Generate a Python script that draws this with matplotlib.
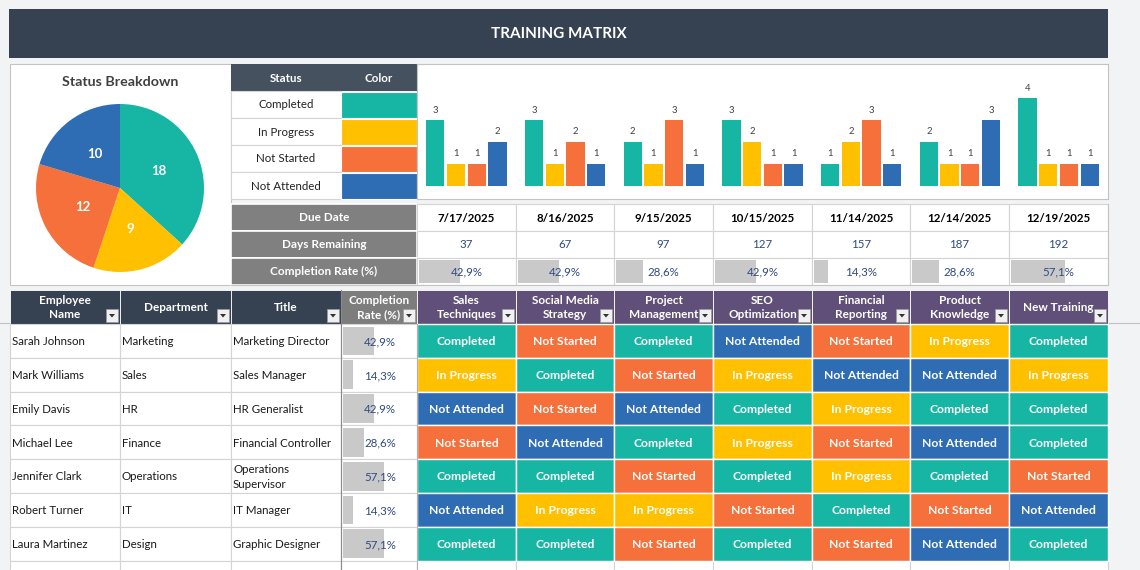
import matplotlib
matplotlib.use("Agg")
import matplotlib.pyplot as plt
from matplotlib.patches import Rectangle, Polygon
import numpy as np

plt.rcParams['font.family'] = ['Lato', 'DejaVu Sans']

# ---------------- data ----------------
statuses = ["Completed", "In Progress", "Not Started", "Not Attended"]
status_colors = ["#17b6a4", "#ffc000", "#f5703a", "#2e6db4"]
pie_values = [18, 9, 12, 10]

trainings = ["Sales\nTechniques", "Social Media\nStrategy", "Project\nManagement",
             "SEO\nOptimization", "Financial\nReporting", "Product\nKnowledge", "New Training"]
completed_counts = [3, 3, 2, 3, 1, 2, 4]
in_progress_counts = [1, 1, 1, 2, 2, 1, 1]
not_started_counts = [1, 2, 3, 1, 3, 1, 1]
not_attended_counts = [2, 1, 1, 1, 1, 3, 1]
due_dates = ["7/17/2025", "8/16/2025", "9/15/2025", "10/15/2025", "11/14/2025", "12/14/2025", "12/19/2025"]
days_remaining = [37, 67, 97, 127, 157, 187, 192]
training_rates = [42.9, 42.9, 28.6, 42.9, 14.3, 28.6, 57.1]

employees = ["Sarah Johnson", "Mark Williams", "Emily Davis", "Michael Lee",
             "Jennifer Clark", "Robert Turner", "Laura Martinez"]
departments = ["Marketing", "Sales", "HR", "Finance", "Operations", "IT", "Design"]
titles = ["Marketing Director", "Sales Manager", "HR Generalist", "Financial Controller",
          "Operations\nSupervisor", "IT Manager", "Graphic Designer"]
employee_rates = [42.9, 14.3, 42.9, 28.6, 57.1, 14.3, 57.1]
status_matrix = [
    ["Completed", "Not Started", "Completed", "Not Attended", "Not Started", "In Progress", "Completed"],
    ["In Progress", "Completed", "Not Started", "In Progress", "Not Attended", "Not Attended", "In Progress"],
    ["Not Attended", "Not Started", "Not Attended", "Completed", "In Progress", "Completed", "Completed"],
    ["Not Started", "Not Attended", "Completed", "In Progress", "Not Started", "Not Attended", "Completed"],
    ["Completed", "Completed", "Not Started", "Completed", "In Progress", "Completed", "Not Started"],
    ["Not Attended", "In Progress", "In Progress", "Not Started", "Completed", "Not Started", "Not Attended"],
    ["Completed", "Completed", "Not Started", "Completed", "Not Started", "Not Attended", "Completed"],
]

# ---------------- styling ----------------
W, H = 1140, 570
BG = "#f2f3f4"
DARK = "#364152"
HEAD = "#46515f"
GRAY_LABEL = "#808080"
PURPLE = "#604f78"
NAVY = "#2f4a80"
BORDER = "#d4d4d4"
DATABAR = "#c9c9c9"
FS = 8.3
color_of = dict(zip(statuses, status_colors))

fig = plt.figure(figsize=(W / 100, H / 100), dpi=100)
fig.patch.set_facecolor(BG)
ax = fig.add_axes([0, 0, 1, 1])
ax.set_xlim(0, W)
ax.set_ylim(H, 0)
ax.axis("off")


def rect(x0, y0, x1, y1, fc, ec="none", lw=0, z=1):
    ax.add_patch(Rectangle((x0, y0), x1 - x0, y1 - y0, facecolor=fc, edgecolor=ec, lw=lw, zorder=z))


def fpos(x0, y0, x1, y1):
    return [x0 / W, 1 - y1 / H, (x1 - x0) / W, (y1 - y0) / H]


def txt(x, y, s, **kw):
    d = dict(ha="center", va="center", fontsize=FS, zorder=5)
    d.update(kw)
    ax.text(x, y, s, **d)


# title bar
rect(9, 9, 1108, 58, DARK)
txt(559, 34, "TRAINING MATRIX", color="white", fontsize=11, fontweight="bold")

# pie panel
rect(10, 64, 231, 285, "white", "#c4c4c4", 0.8)
txt(120, 82, "Status Breakdown", color="#404040", fontsize=10.3, fontweight="bold")

pax = fig.add_axes(fpos(36, 104, 204, 272))
total = sum(pie_values)
pax.pie(pie_values, colors=status_colors, startangle=90, counterclock=False, radius=1,
        autopct=lambda p: f"{round(p * total / 100)}", pctdistance=0.5,
        wedgeprops=dict(linewidth=0),
        textprops=dict(color="white", fontweight="bold", fontsize=9.5))
pax.set_xlim(-1.0, 1.0)
pax.set_ylim(-1.0, 1.0)

# legend table
rect(231, 64, 417, 91, HEAD)
txt(286, 78, "Status", color="white", fontweight="bold")
txt(379, 78, "Color", color="white", fontweight="bold")
for i, (s, c) in enumerate(zip(statuses, status_colors)):
    y0 = 91 + 27 * i
    rect(231, y0, 341, y0 + 27, "white", BORDER, 0.8)
    rect(341, y0 + 1, 417, y0 + 27, c, "white", 0.8)
    txt(286, y0 + 14, s, color="#222222")

# bar chart panel
col_edges_t = [417, 516, 614, 713, 812, 910, 1009, 1108]
bax = fig.add_axes(fpos(417, 64, 1108, 199))
bax.set_facecolor("white")
xg = np.arange(len(trainings))
series = [completed_counts, in_progress_counts, not_started_counts, not_attended_counts]
for k, (vals, c) in enumerate(zip(series, status_colors)):
    bars = bax.bar(xg + (k - 1.5) * 0.21, vals, width=0.185, color=c, linewidth=0)
    bax.bar_label(bars, padding=4, fontsize=6.8, color="#404040")
bax.set_xlim(-0.5, len(trainings) - 0.5)
bax.set_ylim(-0.59, 5.55)
bax.set_xticks([])
bax.set_yticks([])
for sp in bax.spines.values():
    sp.set_color("#c4c4c4")
    sp.set_linewidth(0.8)

# due date table
row_labels = ["Due Date", "Days Remaining", "Completion Rate (%)"]
for r, lab in enumerate(row_labels):
    y0 = 204 + 27 * r
    rect(231, y0, 417, y0 + 27, GRAY_LABEL, "white", 1.2)
    txt(324, y0 + 13.5, lab, color="white", fontweight="bold", fontsize=8.5)
    for j in range(len(trainings)):
        x0, x1 = col_edges_t[j], col_edges_t[j + 1]
        rect(x0, y0, x1, y0 + 27, "white", BORDER, 0.8)
        xc = (x0 + x1) / 2
        if r == 0:
            txt(xc, y0 + 14, due_dates[j], color="black", fontweight="bold")
        elif r == 1:
            txt(xc, y0 + 14, str(days_remaining[j]), color=NAVY)
        else:
            rect(x0 + 2, y0 + 2, x0 + 2 + training_rates[j] / 100 * 95, y0 + 25, DATABAR, z=2)
            txt(xc, y0 + 14, f"{training_rates[j]:.1f}%".replace(".", ","), color=NAVY)
ax.plot([231, 1108], [285, 285], color="#c4c4c4", lw=0.8, zorder=3)
ax.plot([1108, 1108], [204, 285], color="#c4c4c4", lw=0.8, zorder=3)

# sheet gridlines in margins
ax.plot([0, 10], [323, 323], color="#c0c0c0", lw=0.8, zorder=0)
ax.plot([1108, W], [323, 323], color="#c0c0c0", lw=0.8, zorder=0)

# main table
col_edges = [10, 120, 231, 341, 417] + col_edges_t[1:]
headers = ["Employee\nName", "Department", "Title", "Completion\nRate (%)"] + trainings
head_colors = [DARK, DARK, DARK, "#7d7d7d"] + [PURPLE] * len(trainings)
hy0, hy1 = 290, 324
for j, (h, hc) in enumerate(zip(headers, head_colors)):
    x0, x1 = col_edges[j], col_edges[j + 1]
    rect(x0, hy0, x1, hy1, hc, "white", 0.6)
    txt((x0 + x1) / 2, (hy0 + hy1) / 2 + 0.8, h, color="white", fontweight="bold",
        linespacing=1.3, fontsize=8.5)
    # filter dropdown button
    bx0, bx1, by0, by1 = x1 - 14, x1 - 2, 309, 322
    rect(bx0, by0, bx1, by1, "#f0f0f0", "#9a9a9a", 0.5, z=6)
    bc = (bx0 + bx1) / 2
    ax.add_patch(Polygon([[bc - 3, 314], [bc + 3, 314], [bc, 317.5]], closed=True,
                         facecolor="#333333", edgecolor="none", zorder=7))

rh = 33.8
for i, emp in enumerate(employees):
    y0 = hy1 + i * rh
    y1 = y0 + rh
    yc = (y0 + y1) / 2 + 0.8
    for j, val in enumerate([emp, departments[i], titles[i]]):
        x0, x1 = col_edges[j], col_edges[j + 1]
        rect(x0, y0, x1, y1, "white", BORDER, 0.8)
        txt(x0 + 2, yc, val, ha="left", color="#1a1a1a", linespacing=1.45)
    x0, x1 = col_edges[3], col_edges[4]
    rect(x0, y0, x1, y1, "white", BORDER, 0.8)
    rect(x0 + 2, y0 + 2.5, x0 + 2 + employee_rates[i] / 100 * 72, y1 - 2.5, DATABAR, z=2)
    txt((x0 + x1) / 2 + 1, yc, f"{employee_rates[i]:.1f}%".replace(".", ","), color=NAVY)
    for j, st in enumerate(status_matrix[i]):
        x0, x1 = col_edges[4 + j], col_edges[5 + j]
        rect(x0, y0, x1, y1, color_of[st], "white", 1.0, z=2)
        txt((x0 + x1) / 2, yc, st, color="white", fontweight="bold", fontsize=8.7)

# partial empty row at bottom
y0 = hy1 + len(employees) * rh
for j in range(len(col_edges) - 1):
    rect(col_edges[j], y0, col_edges[j + 1], y0 + 30, "white", BORDER, 0.8)

# darker vertical separators
ax.plot([341, 341], [290, H], color="#8a8a8a", lw=0.8, zorder=4)
ax.plot([417, 417], [324, H], color="#b0b0b0", lw=0.8, zorder=4)

fig.savefig("out.png", dpi=100, facecolor=BG)
